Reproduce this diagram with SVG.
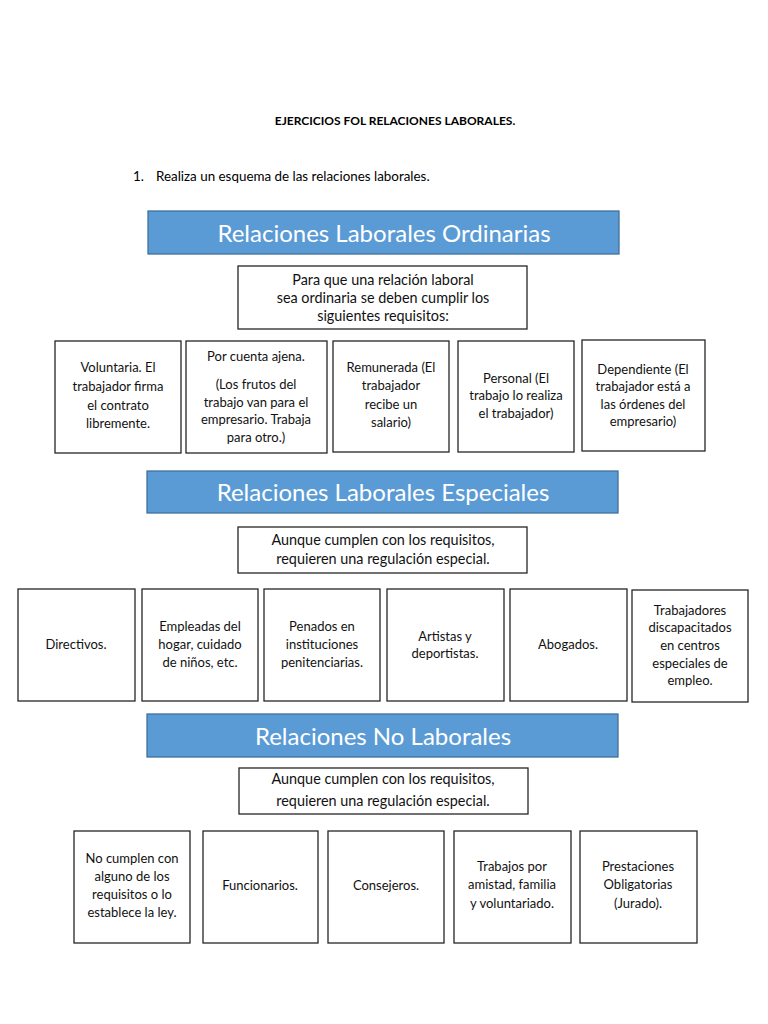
<svg xmlns="http://www.w3.org/2000/svg" width="768" height="1024" viewBox="0 0 768 1024">
<style>
.bg{fill:#ffffff}
.hdr rect{fill:#5B9BD5;stroke:#41719C;stroke-width:1.3}
.hdr text{fill:#ffffff;font-family:Lato,"Liberation Sans",sans-serif;font-size:24px;text-anchor:middle}
.box rect{fill:#ffffff;stroke:#262626;stroke-width:1.3}
.box text{fill:#111111;font-family:Lato,"Liberation Sans",sans-serif;font-size:13px;text-anchor:middle}
.box text.big{font-size:14.4px}
.title{fill:#000;font-family:Lato,"Liberation Sans",sans-serif;font-size:12px;font-weight:bold;text-anchor:middle}
.intro{fill:#000;font-family:Lato,"Liberation Sans",sans-serif;font-size:13.4px}
</style>
<rect class="bg" x="0" y="0" width="768" height="1024"/>
<text class="title" x="395" y="125">EJERCICIOS FOL RELACIONES LABORALES.</text>
<text class="intro" x="133" y="181">1.</text>
<text class="intro" x="156" y="181">Realiza un esquema de las relaciones laborales.</text>

<g id="hdr-ordinarias" class="hdr"><rect x="148" y="211" width="471" height="43"/><text x="384" y="242">Relaciones Laborales Ordinarias</text></g>
<g id="req-ordinarias" class="box"><rect x="238" y="266" width="289" height="63"/>
<text class="big" x="383" y="285">Para que una relación laboral</text><text class="big" x="383" y="303">sea ordinaria se deben cumplir los</text><text class="big" x="383" y="321">siguientes requisitos:</text></g>
<g id="voluntaria" class="box"><rect x="55" y="341" width="126" height="112"/>
<text x="118" y="372">Voluntaria. El</text><text x="118" y="391">trabajador firma</text><text x="118" y="410">el contrato</text><text x="118" y="428">libremente.</text></g>
<g id="ajena" class="box"><rect x="186" y="341" width="141" height="112"/>
<text x="256" y="361">Por cuenta ajena.</text><text x="256" y="389">(Los frutos del</text><text x="256" y="407">trabajo van para el</text><text x="256" y="424">empresario. Trabaja</text><text x="256" y="442">para otro.)</text></g>
<g id="remunerada" class="box"><rect x="333" y="341" width="116" height="111"/>
<text x="391" y="372">Remunerada (El</text><text x="391" y="390">trabajador</text><text x="391" y="409">recibe un</text><text x="391" y="427">salario)</text></g>
<g id="personal" class="box"><rect x="458" y="341" width="116" height="111"/>
<text x="516" y="383">Personal (El</text><text x="516" y="400">trabajo lo realiza</text><text x="516" y="418">el trabajador)</text></g>
<g id="dependiente" class="box"><rect x="582" y="340" width="123" height="111"/>
<text x="643" y="374">Dependiente (El</text><text x="643" y="391">trabajador está a</text><text x="643" y="409">las órdenes del</text><text x="643" y="426">empresario)</text></g>

<g id="hdr-especiales" class="hdr"><rect x="147" y="471" width="471" height="42"/><text x="383" y="501">Relaciones Laborales Especiales</text></g>
<g id="req-especiales" class="box"><rect x="238" y="527" width="289" height="46"/>
<text class="big" x="383" y="545">Aunque cumplen con los requisitos,</text><text class="big" x="383" y="564">requieren una regulación especial.</text></g>
<g id="directivos" class="box"><rect x="18" y="589" width="117" height="112"/><text x="76" y="649">Directivos.</text></g>
<g id="empleadas" class="box"><rect x="142" y="589" width="116" height="112"/>
<text x="200" y="631">Empleadas del</text><text x="200" y="649">hogar, cuidado</text><text x="200" y="667">de niños, etc.</text></g>
<g id="penados" class="box"><rect x="264" y="589" width="116" height="112"/>
<text x="322" y="631">Penados en</text><text x="322" y="649">instituciones</text><text x="322" y="667">penitenciarias.</text></g>
<g id="artistas" class="box"><rect x="387" y="589" width="117" height="112"/>
<text x="445" y="641">Artistas y</text><text x="445" y="658">deportistas.</text></g>
<g id="abogados" class="box"><rect x="510" y="589" width="117" height="112"/><text x="568" y="649">Abogados.</text></g>
<g id="discapacitados" class="box"><rect x="632" y="590" width="116" height="112"/>
<text x="690" y="615">Trabajadores</text><text x="690" y="632">discapacitados</text><text x="690" y="650">en centros</text><text x="690" y="668">especiales de</text><text x="690" y="685">empleo.</text></g>

<g id="hdr-nolaborales" class="hdr"><rect x="147" y="714" width="471" height="43"/><text x="383" y="745">Relaciones No Laborales</text></g>
<g id="req-nolaborales" class="box"><rect x="239" y="768" width="289" height="46"/>
<text class="big" x="383" y="784">Aunque cumplen con los requisitos,</text><text class="big" x="383" y="806">requieren una regulación especial.</text></g>
<g id="no-cumplen" class="box"><rect x="74" y="831" width="116" height="112"/>
<text x="132" y="863">No cumplen con</text><text x="132" y="881">alguno de los</text><text x="132" y="899">requisitos o lo</text><text x="132" y="917">establece la ley.</text></g>
<g id="funcionarios" class="box"><rect x="203" y="831" width="115" height="112"/><text x="260" y="890">Funcionarios.</text></g>
<g id="consejeros" class="box"><rect x="328" y="831" width="116" height="112"/><text x="386" y="890">Consejeros.</text></g>
<g id="trabajos" class="box"><rect x="454" y="831" width="117" height="112"/>
<text x="512" y="871">Trabajos por</text><text x="512" y="889">amistad, familia</text><text x="512" y="908">y voluntariado.</text></g>
<g id="prestaciones" class="box"><rect x="580" y="831" width="117" height="112"/>
<text x="638" y="871">Prestaciones</text><text x="638" y="889">Obligatorias</text><text x="638" y="908">(Jurado).</text></g>
<g id="connectors"></g>
</svg>
